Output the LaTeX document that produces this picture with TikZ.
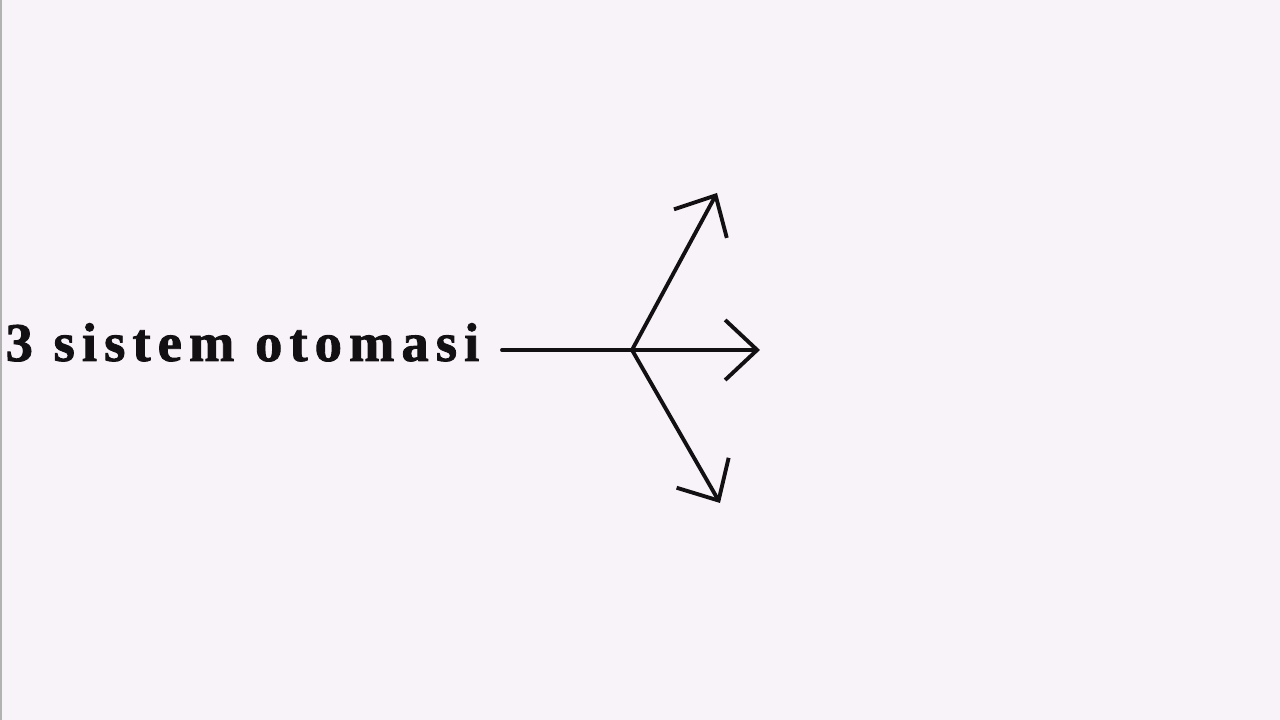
\documentclass[tikz,border=0pt]{standalone}
\usepackage{fontspec}
\setmainfont{Liberation Serif}
\usetikzlibrary{arrows.meta}
\definecolor{papercolor}{RGB}{248,243,248}
\definecolor{inkcolor}{RGB}{18,16,18}
\begin{document}
\begin{tikzpicture}[x=1cm,y=1cm]
\newcommand{\xspace}{0.01}
\newcommand{\yspace}{0.01}
\tikzstyle{paper}=[fill=papercolor,draw=none]
\tikzstyle{label}=[inkcolor,inner sep=0pt,anchor=base west,font=\bfseries\addfontfeatures{LetterSpace=13,FakeBold=1.6}\fontsize{15.5}{18}\selectfont]
\tikzstyle{edge}=[inkcolor,line width=1.1pt,line cap=round]
\tikzstyle{branch}=[edge,-{Straight Barb[length=3.2mm,width=6mm,line width=1.1pt]}]
\fill[paper] (0,0) rectangle (\xspace*1280,\yspace*720);
\useasboundingbox (0,0) rectangle (\xspace*1280,\yspace*720);
\draw[gray!60,line width=0.5pt] (0.01,0) -- (0.01,\yspace*720);
\node[label] (title) at (\xspace*5,\yspace*359) {3 sistem otomasi};
\coordinate (start) at (\xspace*502,\yspace*370);
\coordinate (split) at (\xspace*632,\yspace*370);
\coordinate (up) at (\xspace*717,\yspace*527);
\coordinate (right) at (\xspace*760,\yspace*370);
\coordinate (down) at (\xspace*720,\yspace*217);
\draw[edge] (start) -- (split);
\draw[branch] (split) -- (up);
\draw[branch] (split) -- (right);
\draw[branch] (split) -- (down);
\end{tikzpicture}
\end{document}
